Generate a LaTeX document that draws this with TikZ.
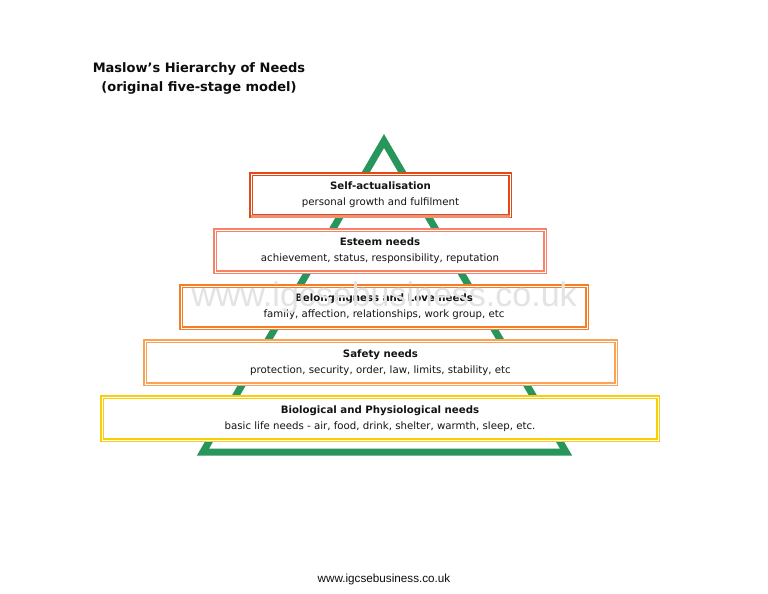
\documentclass[tikz,border=0pt]{standalone}
\usepackage{fontspec}
\setmainfont{DejaVu Sans}
\newfontfamily\arialfont{Liberation Sans}
\begin{document}
\begin{tikzpicture}[x=1pt,y=-1pt,
  lvl/.style={draw=#1, double=white, double distance=1pt, line width=1.2pt,
    fill=white, rectangle, inner sep=0pt, align=center,
    font=\fontsize{10.2}{15.8}\selectfont, text=black!92},
  tri/.style={draw=pgreen, line width=7pt, line join=miter}
]
\definecolor{pgreen}{RGB}{40,150,90}
\definecolor{c1}{RGB}{225,75,25}
\definecolor{c1b}{RGB}{235,145,120}
\definecolor{c2}{RGB}{245,130,105}
\definecolor{c3}{RGB}{245,125,40}
\definecolor{c4}{RGB}{250,162,85}
\definecolor{c5}{RGB}{250,205,10}
\useasboundingbox (0,0) rectangle (768,594);
\fill[white] (0,0) rectangle (768,594);

% title
\node[font=\fontsize{13}{19}\selectfont\bfseries, align=center, text=black!95] (title) at (199,78)
  {Maslow’s Hierarchy of Needs\\(original five-stage model)};

% pyramid
\coordinate (apex) at (384,141);
\coordinate (bl) at (203,452);
\coordinate (br) at (566,452);
\draw[tri] (apex) -- (br) -- (bl) -- cycle;

% levels
\node[lvl=c1, minimum width=259pt, minimum height=42pt] (l1) at (380.5,195)
  {\textbf{Self-actualisation}\\personal growth and fulfilment};
\draw[c1b, line width=3.2pt] ([xshift=1pt]l1.south west) -- ([xshift=-1pt]l1.south east);
\node[lvl=c2, minimum width=330pt, minimum height=42pt] (l2) at (380,251)
  {\textbf{Esteem needs}\\achievement, status, responsibility, reputation};
\node[lvl=c3, minimum width=406pt, minimum height=42pt] (l3) at (384,307)
  {\textbf{Belongingness and Love needs}\\family, affection, relationships, work group, etc};
\node[lvl=c4, minimum width=471pt, minimum height=43pt] (l4) at (380.5,362.5)
  {\textbf{Safety needs}\\protection, security, order, law, limits, stability, etc};
\node[lvl=c5, minimum width=556pt, minimum height=43pt] (l5) at (380,418.5)
  {\textbf{Biological and Physiological needs}\\basic life needs - air, food, drink, shelter, warmth, sleep, etc.};

% watermark
\node[font=\arialfont\fontsize{34}{34}\selectfont, text=black!11] (wm) at (384,298) {www.igcsebusiness.co.uk};

% footer
\node[font=\arialfont\fontsize{11.7}{13}\selectfont, text=black!95] (foot) at (384,579) {www.igcsebusiness.co.uk};
\end{tikzpicture}
\end{document}
